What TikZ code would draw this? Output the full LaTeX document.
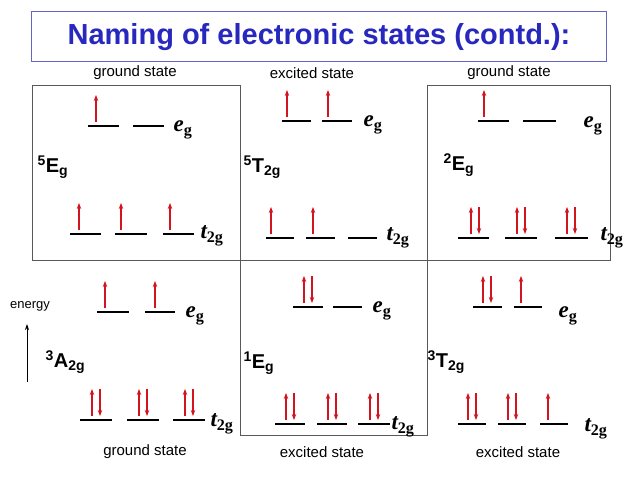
\documentclass[tikz,border=0pt]{standalone}
\usepackage{fontspec}
\setmainfont{Liberation Sans}
\newfontfamily\orbfont{Liberation Serif}
\usetikzlibrary{arrows.meta}
\definecolor{spinred}{RGB}{210,20,30}
\definecolor{titleblue}{RGB}{40,40,190}
\newcommand{\lvl}[3]{\draw[level] (#1,#3) -- (#2,#3);}
\newcommand{\spinup}[2]{\draw[spin] (#1,#2-4) -- (#1,#2-31);}
\newcommand{\spinpair}[2]{\draw[spin] (#1-4,#2-4) -- (#1-4,#2-31);
  \draw[spin] (#1+4,#2-31) -- (#1+4,#2-4);}
\newcommand{\orbl}[2]{{\orbfont\bfseries\itshape #1\textsubscript{\normalfont\orbfont\bfseries #2}}}
\newcommand{\term}[3]{\textbf{\textsuperscript{#1}#2\textsubscript{#3}}}
\begin{document}
\begin{tikzpicture}[x=1pt,y=-1pt]
    \tikzstyle{level}=[draw,line width=1.6pt];
    \tikzstyle{spin}=[draw,spinred,line width=1.2pt,-{Stealth[length=6pt,width=4.5pt]}];
    \tikzstyle{frame}=[draw,black!65,line width=0.6pt];
    \tikzstyle{lbl}=[font=\fontsize{15}{17}\selectfont];
    \tikzstyle{termlbl}=[font=\fontsize{20}{22}\selectfont,anchor=west];
    \tikzstyle{orb}=[font=\fontsize{23}{25}\selectfont];
    \useasboundingbox (0,0) rectangle (638,478);
    % title
    \node[draw=black!40!blue!60,line width=1pt,minimum width=575pt,minimum height=50pt,
      text=titleblue,font=\fontsize{29}{32}\selectfont\bfseries] (title) at (319,37)
      {Naming of electronic states (contd.):};
    % frames
    \draw[frame] (32,85) rectangle (240,260);
    \draw[frame] (427,85) rectangle (610,260);
    \draw[frame] (240,260) rectangle (427,435);
    % column labels
    \node[lbl] (g1) at (135,73) {ground state};
    \node[lbl] (x1) at (312,73) {excited state};
    \node[lbl] (g2) at (509,73) {ground state};
    \node[lbl] (g3) at (145,452) {ground state};
    \node[lbl] (x2) at (322,452) {excited state};
    \node[lbl] (x3) at (518,452) {excited state};
    % 5Eg
    \lvl{88}{119}{126} \lvl{133}{164}{126} \spinup{96}{126}
    \node[orb] (eg1) at (183,130) {\orbl{e}{g}};
    \node[termlbl] (t1) at (34,167) {\term{5}{E}{g}};
    \lvl{70}{101}{234} \lvl{115}{147}{234} \lvl{163}{194}{234}
    \spinup{79}{234} \spinup{121}{234} \spinup{170}{234}
    \node[orb] (tg1) at (212,236) {\orbl{t}{2g}};
    % 5T2g
    \lvl{282}{311}{121} \lvl{322}{352}{121} \spinup{287}{121} \spinup{328}{121}
    \node[orb] (eg2) at (373,125) {\orbl{e}{g}};
    \node[termlbl] (t2) at (240,167) {\term{5}{T}{2g}};
    \lvl{266}{294}{238} \lvl{306}{335}{238} \lvl{348}{377}{238}
    \spinup{271}{238} \spinup{313}{238}
    \node[orb] (tg2) at (398,238) {\orbl{t}{2g}};
    % 2Eg
    \lvl{478}{509}{121} \lvl{523}{556}{121} \spinup{484}{121}
    \node[orb] (eg3) at (593,126) {\orbl{e}{g}};
    \node[termlbl] (t3) at (440,165) {\term{2}{E}{g}};
    \lvl{458}{489}{238} \lvl{505}{537}{238} \lvl{555}{588}{238}
    \spinpair{475}{238} \spinpair{521}{238} \spinpair{571}{238}
    \node[orb] (tg3) at (612,238) {\orbl{t}{2g}};
    % 3A2g
    \node[lbl,font=\fontsize{13}{15}\selectfont] (en) at (30,306) {energy};
    \coordinate (e0) at (27,382);
    \coordinate (e1) at (27,324);
    \draw[line width=0.8pt,-{Stealth[length=6pt,width=4pt]}] (e0) -- (e1);
    \lvl{97}{129}{312} \lvl{145}{175}{312} \spinup{105}{312} \spinup{155}{312}
    \node[orb] (eg4) at (195,316) {\orbl{e}{g}};
    \node[termlbl] (t4) at (42,362) {\term{3}{A}{2g}};
    \lvl{80}{112}{420} \lvl{127}{159}{420} \lvl{173}{205}{420}
    \spinpair{96}{420} \spinpair{143}{420} \spinpair{189}{420}
    \node[orb] (tg4) at (222,424) {\orbl{t}{2g}};
    % 1Eg
    \lvl{293}{323}{307} \lvl{333}{362}{307} \spinpair{308}{307}
    \node[orb] (eg5) at (382,311) {\orbl{e}{g}};
    \node[termlbl] (t5) at (240,363) {\term{1}{E}{g}};
    \lvl{275}{305}{424} \lvl{317}{347}{424} \lvl{358}{390}{424}
    \spinpair{290}{424} \spinpair{332}{424} \spinpair{374}{424}
    \node[orb] (tg5) at (403,427) {\orbl{t}{2g}};
    % 3T2g
    \lvl{473}{502}{307} \lvl{514}{542}{307} \spinpair{487}{307} \spinup{521}{307}
    \node[orb] (eg6) at (568,316) {\orbl{e}{g}};
    \node[termlbl] (t6) at (424,362) {\term{3}{T}{2g}};
    \lvl{458}{486}{424} \lvl{498}{526}{424} \lvl{540}{568}{424}
    \spinpair{472}{424} \spinpair{512}{424} \spinup{548}{424}
    \node[orb] (tg6) at (596,429) {\orbl{t}{2g}};
\end{tikzpicture}
\end{document}
